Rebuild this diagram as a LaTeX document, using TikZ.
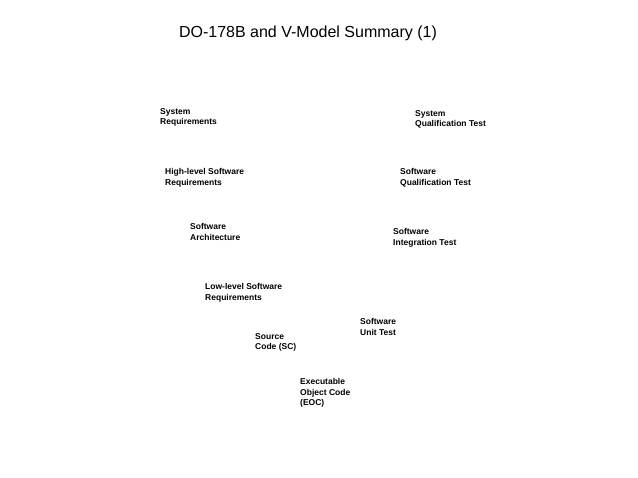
\documentclass[tikz,border=0pt]{standalone}
\usepackage{fontspec}
\setmainfont{Liberation Sans}
\begin{document}
\begin{tikzpicture}[x=1pt,y=-1pt,
  lbl/.style={anchor=north west,inner sep=0pt,align=left,font=\bfseries\fontsize{8.5}{10.8}\selectfont}]
\useasboundingbox (0,0) rectangle (638,478);
\node[font=\fontsize{16}{19}\selectfont,inner sep=0pt] (title) at (308,33) {DO-178B and V-Model Summary (1)};
\node[lbl] (sr) at (160,108) {System\\Requirements};
\node[lbl] (sqt) at (415,110) {System\\Qualification Test};
\node[lbl] (hlr) at (165,168) {High-level Software\\Requirements};
\node[lbl] (swqt) at (400,168) {Software\\Qualification Test};
\node[lbl] (arch) at (190,223) {Software\\Architecture};
\node[lbl] (sit) at (393,228) {Software\\Integration Test};
\node[lbl] (llr) at (205,283) {Low-level Software\\Requirements};
\node[lbl] (sut) at (360,318) {Software\\Unit Test};
\node[lbl] (sc) at (255,333) {Source\\Code (SC)};
\node[lbl] (eoc) at (300,378) {Executable\\Object Code\\(EOC)};
\end{tikzpicture}
\end{document}
